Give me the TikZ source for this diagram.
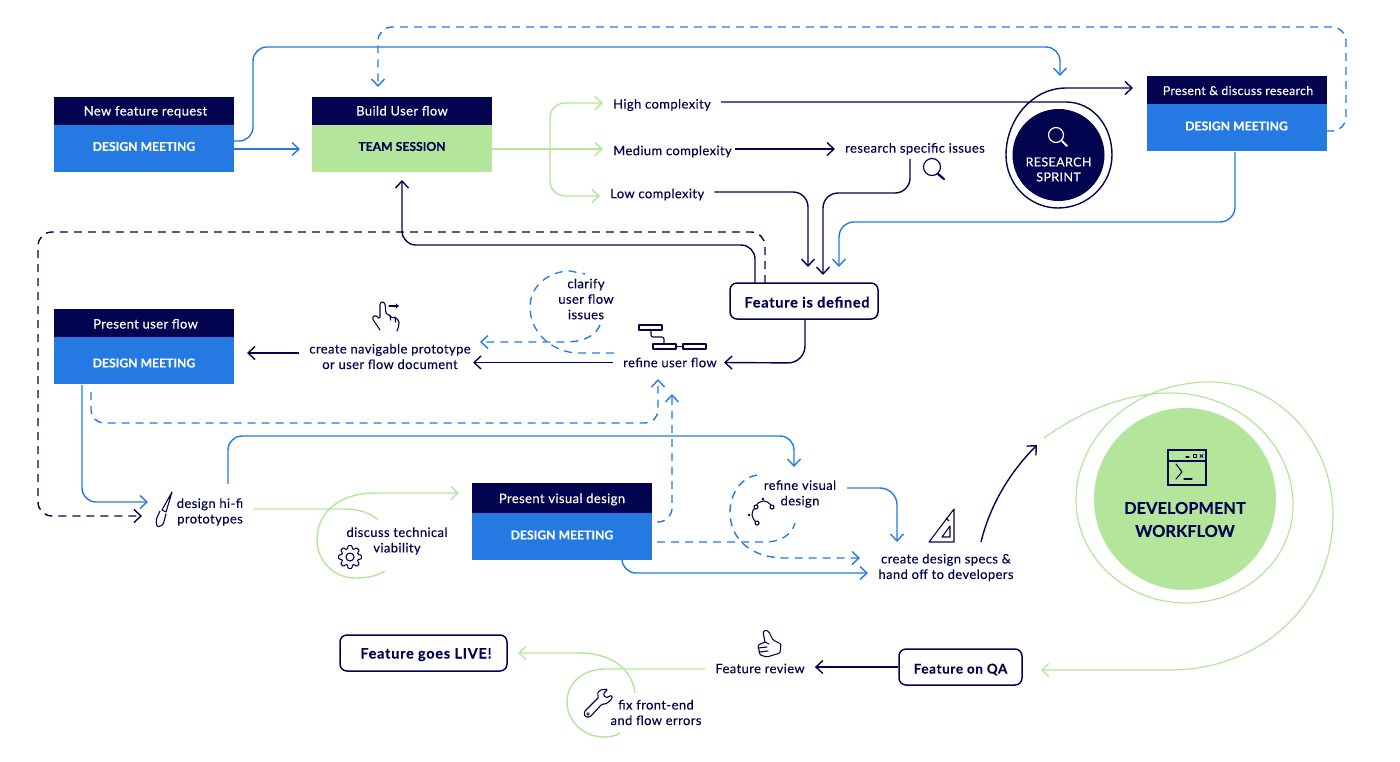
\documentclass[tikz,border=0pt]{standalone}
\usepackage{fontspec}
\setmainfont{Lato}[LetterSpace=3, FakeBold=0.2, BoldFeatures={LetterSpace=0, FakeBold=0.2}]
\newfontfamily\statefont{Lato}[LetterSpace=5, FakeBold=0.2]
\usetikzlibrary{arrows.meta}
\definecolor{navy}{HTML}{03044F}
\definecolor{linkblue}{HTML}{2479E3}
\definecolor{mint}{HTML}{B3E59A}
\tikzset{
    headbox/.style={fill=navy, text=white, minimum width=180pt, minimum height=28pt, inner sep=0pt, text height=10pt, text depth=0pt, font=\fontsize{13}{15}\selectfont},
    bodybox/.style={fill=linkblue, text=white, minimum width=180pt, minimum height=47pt, inner sep=0pt, text height=9pt, text depth=4pt, font=\fontsize{12.2}{15}\selectfont\bfseries},
    teambox/.style={bodybox, fill=mint, text=navy},
    statebox/.style={draw=navy, line width=1.5pt, fill=white, rounded corners=7pt, minimum height=36pt, inner sep=0pt, text=navy, text height=15pt, text depth=2pt, font=\statefont\fontsize{14.5}{17}\selectfont\bfseries},
    note/.style={text=navy, align=center, inner xsep=10pt, inner ysep=2pt, font=\fontsize{13}{15.5}\selectfont},
    navyflow/.style={navy, line width=1.4pt, -{Straight Barb[length=7pt,width=13pt]}},
    blueflow/.style={linkblue, line width=1.4pt, -{Straight Barb[length=7pt,width=13pt]}},
    mintflow/.style={mint, line width=1.4pt, -{Straight Barb[length=7pt,width=13pt]}},
    dashflow/.style={dash pattern=on 8pt off 6pt},
    icon/.style={navy, line width=1.1pt, line join=round, line cap=round},
}
\begin{document}
\begin{tikzpicture}[x=1pt, y=-1pt]
    \useasboundingbox (0,0) rectangle (1400,761);

    \node[headbox] (reqhead) at (144,110.5) {\hspace*{3pt}New feature request};
    \node[bodybox, anchor=north] (reqbody) at (reqhead.south) {DESIGN MEETING};
    \node[headbox] (flowhead) at (402,110.5) {Build User flow};
    \node[teambox, anchor=north] (teambody) at (flowhead.south) {TEAM SESSION};
    \node[headbox, font=\fontsize{12.2}{15}\selectfont] (discusshead) at (1236.5,90) {\hspace*{3pt}Present \& discuss research};
    \node[bodybox, anchor=north] (discussbody) at (discusshead.south) {DESIGN MEETING};
    \node[headbox, text height=11pt] (userhead) at (144,323) {\hspace*{3pt}Present user flow};
    \node[bodybox, anchor=north, text height=13pt, text depth=0pt] (userbody) at (userhead.south) {DESIGN MEETING};
    \node[headbox, minimum height=30pt] (visualhead) at (562,498) {Present visual design};
    \node[bodybox, anchor=north] (visualbody) at (visualhead.south) {DESIGN MEETING};

    \node[note, anchor=west] (high) at (603,105) {High complexity};
    \node[note, anchor=west] (medium) at (603,151.5) {Medium complexity};
    \node[note, anchor=west] (low) at (600,194.5) {Low complexity};
    \node[note, anchor=west] (research) at (835,149) {research specific issues};
    \node[statebox, minimum width=148pt] (defined) at (804,301) {\hspace*{6pt}Feature is defined};
    \node[note] (clarify) at (586,299) {clarify\\user flow\\issues};
    \node[note] (refine) at (670,362.5) {refine user flow};
    \node[note] (navigable) at (390,356.5) {create navigable prototype\\or user flow document};
    \node[note] (hifi) at (210,512) {design hi-fi\\prototypes};
    \node[note] (viability) at (397,541) {discuss technical\\viability};
    \node[note] (refinevis) at (800,494) {refine visual\\design};
    \node[note] (specs) at (946,567.5) {create design specs \&\\hand off to developers};
    \node[statebox, minimum width=123pt, font=\statefont\fontsize{13.4}{17}\selectfont\bfseries] (qa) at (960.5,667) {Feature on QA};
    \node[note] (review) at (760,668.5) {Feature review};
    \node[statebox, minimum width=167pt, text height=13pt] (live) at (423.5,653) {\hspace*{5pt}Feature goes LIVE!};
    \node[note] (frontend) at (656,712.5) {fix front-end\\and flow errors};

    \node[circle, fill=navy, minimum size=92pt, inner sep=0pt, text=white, align=center, font=\fontsize{12.5}{15}\selectfont] (sprint) at (1058.5,155) {\\[23pt]RESEARCH\\SPRINT};
    \node[circle, fill=mint, minimum size=182pt, inner sep=0pt, text=navy, align=center, font=\fontsize{16.4}{23}\selectfont\bfseries] (devflow) at (1185,499) {\\[30pt]DEVELOPMENT\\WORKFLOW};

    \coordinate (reqtop) at (234,141);
    \coordinate (reqmid) at (234,149);
    \coordinate (teamin) at (300,149);
    \coordinate (teamout) at (492,149);
    \coordinate (sprinttip) at (1060,76);
    \coordinate (discussback) at (1326,131);
    \coordinate (discusstip) at (1133,88);
    \coordinate (flowtop) at (378,87);
    \coordinate (flowbottom) at (402,180);
    \coordinate (lowtip) at (600,196);
    \coordinate (mediumout) at (735,149);
    \coordinate (researchout) at (910,159);
    \coordinate (definedleft) at (808,267);
    \coordinate (definedmid) at (823,275);
    \coordinate (definedright) at (839,267);
    \coordinate (discussout) at (1235,152);
    \coordinate (solidout) at (755,283);
    \coordinate (dashout) at (765,283);
    \coordinate (definedout) at (805,319);
    \coordinate (refinein) at (724,362.5);
    \coordinate (brushdash) at (142,516);
    \coordinate (brushtip) at (148,502);
    \coordinate (userdown) at (82,385);
    \coordinate (userdash) at (91,392);
    \coordinate (visualdash) at (657,522);
    \coordinate (visuallow) at (657,542);
    \coordinate (visualout) at (622,560);
    \coordinate (refinetip) at (658,379);
    \coordinate (refinetiptwo) at (672,394);
    \coordinate (hifiup) at (228,484);
    \coordinate (refinevistip) at (794,467);
    \coordinate (specstip) at (897,542);
    \coordinate (specsdash) at (860,558);
    \coordinate (specslow) at (868,573);
    \coordinate (specsup) at (981,542);
    \coordinate (upworks) at (1037,445);
    \coordinate (devstart) at (1044,438);
    \coordinate (qatip) at (1041,670);
    \coordinate (visualin) at (459,493);
    \coordinate (livetip) at (518,653);

    \draw[blueflow, rounded corners=14pt] (reqtop) -- (253,141) -- (253,47) -- (1060,47) -- (sprinttip);
    \draw[blueflow] (reqmid) -- (teamin);
    \draw[blueflow, dashflow, rounded corners=14pt] (discussback) -- (1346,131) -- (1346,27) -- (378,27) -- (flowtop);

    \draw[mintflow] (teamout) -- (medium.west |- teamout);
    \draw[mintflow, rounded corners=15pt] (550,149) -- (550,103) -- (high.west |- 0,103);
    \draw[mintflow, rounded corners=15pt] (550,149) -- (550,196) -- (lowtip);

    \draw[navyflow] (high.east |- 0,102) -- (1066,102) .. controls (1092,102) and (1112,125) .. (1112,155) .. controls (1112,185) and (1087,208) .. (1058,208) .. controls (1030,208) and (1006,185) .. (1006,155) .. controls (1006,120) and (1032,88) .. (1066,88) -- (discusstip);
    \draw[navyflow] (mediumout) -- (research.west |- mediumout);
    \draw[navyflow, rounded corners=15pt] (low.east |- 0,192) -| (definedleft);
    \draw[navyflow, rounded corners=15pt] (researchout) -- (910,193) -- (823,193) -- (definedmid);
    \draw[blueflow, rounded corners=15pt] (discussout) -- (1235,222) -- (839,222) -- (definedright);

    \draw[navyflow, rounded corners=14pt] (solidout) -- (755,245) -- (402,245) -- (flowbottom);
    \draw[navyflow, dashflow, rounded corners=14pt] (dashout) -- (765,232) -- (38,232) -- (38,516) -- (brushdash);
    \draw[navyflow, rounded corners=17pt] (definedout) -- (805,363) -- (refinein);
    \draw[navyflow] (refine.west) -- (473,362.5);
    \draw[navyflow] (navigable.west |- 0,353) -- (247,353);

    \draw[linkblue, line width=1.3pt, dashflow] (614,353) -- (575,353) .. controls (548,350) and (530,330) .. (530,307) .. controls (530,285) and (550,271) .. (570,271) -- (585,274);
    \draw[blueflow, dashflow] (600,325) .. controls (596,335) and (585,342) .. (565,342) -- (480,342);

    \draw[blueflow, rounded corners=14pt] (userdown) -- (82,502) -- (brushtip);
    \draw[blueflow, dashflow, rounded corners=13pt] (userdash) -- (91,423) -- (658,423) -- (refinetip);
    \draw[blueflow, rounded corners=14pt] (hifiup) -- (228,436) -- (794,436) -- (refinevistip);
    \draw[blueflow, dashflow, rounded corners=14pt] (visualdash) -- (672,522) -- (refinetiptwo);

    \draw[mint, line width=1.4pt] (hifi.east |- 0,509) -- (345,509) .. controls (360,509) and (372,514) .. (378,520);
    \draw[mintflow] (385,571) .. controls (375,577) and (365,578) .. (355,578) .. controls (333,578) and (317,560) .. (317,540) .. controls (317,512) and (340,493) .. (375,493) -- (visualin);

    \draw[blueflow, rounded corners=17pt] (847,488) -- (897,488) -- (specstip);
    \draw[linkblue, line width=1.3pt, dashflow] (visuallow) -- (765,542) .. controls (780,542) and (792,535) .. (795,523);
    \draw[blueflow, dashflow] (757,475) .. controls (740,478) and (730,495) .. (730,512) .. controls (730,540) and (752,558) .. (785,558) -- (specsdash);
    \draw[blueflow, rounded corners=14pt] (visualout) -- (622,573) -- (specslow);
    \draw[navyflow] (specsup) .. controls (990,505) and (1010,472) .. (upworks);

    \draw[mintflow, line width=1.2pt] (devstart) .. controls (1080,412) and (1125,393) .. (1170,393) .. controls (1238,393) and (1293,443) .. (1293,505) .. controls (1293,560) and (1245,603) .. (1186,603) .. controls (1126,603) and (1076,557) .. (1076,500) .. controls (1076,435) and (1135,382) .. (1210,382) .. controls (1278,382) and (1333,442) .. (1333,515) .. controls (1333,605) and (1260,670) .. (1170,670) -- (qatip);

    \draw[navyflow] (qa.west) -- (review.east |- qa.west);
    \draw[mint, line width=1.4pt] (review.west |- 0,669) -- (605,669) .. controls (583,669) and (567,683) .. (567,702) .. controls (567,722) and (585,737) .. (603,737) .. controls (610,737) and (616,736) .. (620,733);
    \draw[mintflow] (635,693) .. controls (632,668) and (610,653) .. (580,653) -- (livetip);

    \draw[white, line width=1.2pt] (1056,135) circle (7.5pt);
    \draw[white, line width=2pt, line cap=round] (1062,141) -- (1067,146);
    \draw[navy, line width=1.2pt] (932,167) circle (8.5pt);
    \draw[navy, line width=2.2pt, line cap=round] (938,174) -- (944,179);

    \draw[icon, rounded corners=1.5pt] (380,330) -- (372,318) -- (375,315) -- (380,319) -- (380,303) -- (382,301.5) -- (385,303) -- (386,314) -- (390,315) -- (391,318) -- (395,317) -- (399,321) -- (399,325) -- (397,331);
    \draw[icon] (390,315) -- (390.5,320);
    \draw[icon] (395,317) -- (395.5,322);
    \draw[icon] (389,306) -- (398,306);
    \draw[icon, line width=.8pt] (396,304) -- (398,306) -- (396,308);

    \draw[icon] (639,325) rectangle (662,330);
    \draw[icon] (653,344) rectangle (676,349);
    \draw[icon] (683,344) rectangle (706,349);
    \draw[icon, rounded corners=2pt] (651,331) -- (651,337) -- (664,337) -- (664,344);
    \draw[icon] (676,346.5) -- (683,346.5);

    \draw[icon] (172,492) -- (162,510) -- (166,512) -- cycle;
    \draw[icon, rounded corners=1.5pt] (160,511) -- (156,520) -- (157,527) -- (163,525) -- (166,514);

    \begin{scope}[shift={(350,557)}]
        \draw[icon, rounded corners=.8pt] (-16:8.5) \foreach \ang in {0,45,...,315} { -- (\ang-10:11.5) -- (\ang+10:11.5) -- (\ang+16:8.5) -- (\ang+29:8.5) } -- cycle;
        \draw[icon] (0,0) circle (4pt);
    \end{scope}

    \draw[icon] (772,507) .. controls (768,499) and (758,499) .. (756,507) .. controls (750,512) and (751,518) .. (757,523);
    \draw[icon, fill=white] (756,507) circle (2pt);
    \draw[icon, fill=white] (772,507) circle (2pt);
    \draw[icon, fill=white] (757,523) circle (2pt);
    \filldraw[navy] (749,515) circle (1pt);
    \filldraw[navy] (763,499) circle (1pt);

    \draw[icon] (929,542) -- (954,509) -- (954,542) -- cycle;
    \draw[icon] (942,537) -- (950,526) -- (950,537) -- cycle;
    \draw[icon] (946,518) -- (949,521);

    \draw[icon, rounded corners=1.2pt] (765,642) -- (763,632) -- (766,630) -- (769,632) -- (773,640) -- (781,644) -- (780,653) -- (767,657) -- (760,655) -- (758,645) -- (765,642) -- (769,644);
    \draw[icon] (758,648) -- (767,647);
    \draw[icon] (759,652) -- (768,651);

    \draw[icon, rounded corners=1.5pt] (584,712) -- (599,697) -- (597,694) -- (600,690) -- (608,689) -- (603,694) -- (606,698) -- (612,695) -- (612,699) -- (606,704) -- (602,704) -- (590,717) -- (585,717) -- cycle;
    \draw[icon, line width=.8pt] (588,714) circle (1.4pt);

    \draw[navy, line width=1.2pt] (1168,450) rectangle (1206,485);
    \draw[navy, line width=1.2pt] (1168,461) -- (1206,461);
    \draw[icon] (1176,464) -- (1182,472) -- (1176,479);
    \draw[icon] (1184,479) -- (1192,479);
    \draw[icon] (1186,457) -- (1189,457);
    \draw[icon, line width=.8pt] (1193,454.5) rectangle (1196,457.5);
    \draw[icon, line width=.8pt] (1200,454.5) -- (1203,457.5);
    \draw[icon, line width=.8pt] (1203,454.5) -- (1200,457.5);
\end{tikzpicture}
\end{document}
